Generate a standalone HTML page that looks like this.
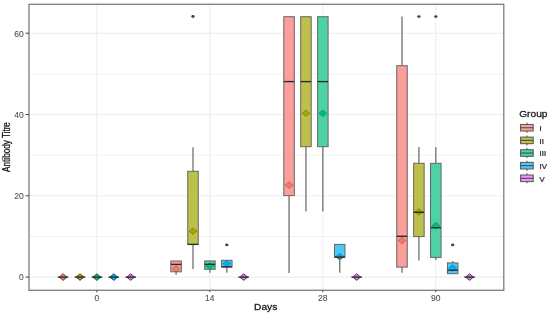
<!DOCTYPE html>
<html><head><meta charset="utf-8"><title>Antibody Titre boxplot</title>
<style>
html,body{margin:0;padding:0;background:#fff;}
svg{display:block;}
text{font-family:"Liberation Sans",Arial,sans-serif;}
.ax{font-size:8.5px;fill:#505050;stroke:#505050;stroke-width:0.1px;}
.ti{font-size:10.2px;fill:#1a1a1a;stroke:#1a1a1a;stroke-width:0.3px;}
.lg{font-size:7.8px;fill:#222;stroke:#222;stroke-width:0.25px;}
.wh{stroke:#7a7a7a;stroke-width:1.4;}
.bx{stroke:#666;stroke-width:1.0;}
.md{stroke:#2a2a2a;stroke-width:1.35;}
</style></head>
<body>
<svg width="550" height="315" viewBox="0 0 550 315">
<rect width="550" height="315" fill="#fff"/>
<g stroke="#eeeeee" fill="none">
<line x1="29.0" x2="503.8" y1="236.45" y2="236.45" stroke-width="0.8"/>
<line x1="29.0" x2="503.8" y1="155.15" y2="155.15" stroke-width="0.8"/>
<line x1="29.0" x2="503.8" y1="73.85" y2="73.85" stroke-width="0.8"/>
<line x1="29.0" x2="503.8" y1="277.10" y2="277.10" stroke-width="1.1"/>
<line x1="29.0" x2="503.8" y1="195.80" y2="195.80" stroke-width="1.1"/>
<line x1="29.0" x2="503.8" y1="114.50" y2="114.50" stroke-width="1.1"/>
<line x1="29.0" x2="503.8" y1="33.20" y2="33.20" stroke-width="1.1"/>
<line x1="96.8" x2="96.8" y1="4.3" y2="290.3" stroke-width="1.1"/>
<line x1="209.8" x2="209.8" y1="4.3" y2="290.3" stroke-width="1.1"/>
<line x1="322.75" x2="322.75" y1="4.3" y2="290.3" stroke-width="1.1"/>
<line x1="435.7" x2="435.7" y1="4.3" y2="290.3" stroke-width="1.1"/>
</g>
<polygon points="63.10,273.80 67.10,277.10 63.10,280.40 59.10,277.10" fill="#F8766D" stroke="#1a1a1a" stroke-width="0.7"/><rect x="57.85" y="277.1" width="10.50" height="0.00" fill="#F8766D" fill-opacity="0.7" class="bx"/><line x1="57.85" x2="68.35" y1="277.1" y2="277.1" class="md"/>
<polygon points="80.00,273.80 84.00,277.10 80.00,280.40 76.00,277.10" fill="#A3A500" stroke="#1a1a1a" stroke-width="0.7"/><rect x="74.75" y="277.1" width="10.50" height="0.00" fill="#A3A500" fill-opacity="0.7" class="bx"/><line x1="74.75" x2="85.25" y1="277.1" y2="277.1" class="md"/>
<polygon points="96.90,273.80 100.90,277.10 96.90,280.40 92.90,277.10" fill="#00BF7D" stroke="#1a1a1a" stroke-width="0.7"/><rect x="91.65" y="277.1" width="10.50" height="0.00" fill="#00BF7D" fill-opacity="0.7" class="bx"/><line x1="91.65" x2="102.15" y1="277.1" y2="277.1" class="md"/>
<polygon points="113.80,273.80 117.80,277.10 113.80,280.40 109.80,277.10" fill="#00B0F6" stroke="#1a1a1a" stroke-width="0.7"/><rect x="108.55" y="277.1" width="10.50" height="0.00" fill="#00B0F6" fill-opacity="0.7" class="bx"/><line x1="108.55" x2="119.05" y1="277.1" y2="277.1" class="md"/>
<polygon points="130.70,273.80 134.70,277.10 130.70,280.40 126.70,277.10" fill="#E76BF3" stroke="#1a1a1a" stroke-width="0.7"/><rect x="125.45" y="277.1" width="10.50" height="0.00" fill="#E76BF3" fill-opacity="0.7" class="bx"/><line x1="125.45" x2="135.95" y1="277.1" y2="277.1" class="md"/>
<rect x="170.85" y="261.0" width="10.50" height="10.80" fill="#fff"/><polygon points="176.10,265.40 180.10,268.70 176.10,272.00 172.10,268.70" fill="#F8766D" stroke="#1a1a1a" stroke-width="0.7"/><line x1="176.10" x2="176.10" y1="271.8" y2="274.8" class="wh"/><rect x="170.85" y="261.0" width="10.50" height="10.80" fill="#F8766D" fill-opacity="0.7" class="bx"/><line x1="170.85" x2="181.35" y1="264.4" y2="264.4" class="md"/>
<rect x="187.75" y="171.3" width="10.50" height="73.10" fill="#fff"/><polygon points="193.00,227.80 197.00,231.10 193.00,234.40 189.00,231.10" fill="#A3A500" stroke="#1a1a1a" stroke-width="0.7"/><line x1="193.00" x2="193.00" y1="147.2" y2="171.3" class="wh"/><line x1="193.00" x2="193.00" y1="244.4" y2="268.9" class="wh"/><rect x="187.75" y="171.3" width="10.50" height="73.10" fill="#A3A500" fill-opacity="0.7" class="bx"/><line x1="187.75" x2="198.25" y1="244.4" y2="244.4" class="md"/><ellipse cx="193.00" cy="16.5" rx="1.7" ry="1.4" fill="#444"/>
<rect x="204.65" y="260.9" width="10.50" height="8.40" fill="#fff"/><polygon points="209.90,262.70 213.90,266.00 209.90,269.30 205.90,266.00" fill="#00BF7D" stroke="#1a1a1a" stroke-width="0.7"/><line x1="209.90" x2="209.90" y1="269.3" y2="272.8" class="wh"/><rect x="204.65" y="260.9" width="10.50" height="8.40" fill="#00BF7D" fill-opacity="0.7" class="bx"/><line x1="204.65" x2="215.15" y1="264.3" y2="264.3" class="md"/>
<rect x="221.55" y="260.3" width="10.50" height="6.60" fill="#fff"/><polygon points="226.80,260.30 230.80,263.60 226.80,266.90 222.80,263.60" fill="#00B0F6" stroke="#1a1a1a" stroke-width="0.7"/><line x1="226.80" x2="226.80" y1="266.9" y2="272.8" class="wh"/><rect x="221.55" y="260.3" width="10.50" height="6.60" fill="#00B0F6" fill-opacity="0.7" class="bx"/><line x1="221.55" x2="232.05" y1="266.9" y2="266.9" class="md"/><ellipse cx="226.80" cy="244.9" rx="1.7" ry="1.4" fill="#444"/>
<polygon points="243.70,273.80 247.70,277.10 243.70,280.40 239.70,277.10" fill="#E76BF3" stroke="#1a1a1a" stroke-width="0.7"/><rect x="238.45" y="277.1" width="10.50" height="0.00" fill="#E76BF3" fill-opacity="0.7" class="bx"/><line x1="238.45" x2="248.95" y1="277.1" y2="277.1" class="md"/>
<rect x="283.80" y="16.7" width="10.50" height="178.90" fill="#fff"/><polygon points="289.05,181.80 293.05,185.10 289.05,188.40 285.05,185.10" fill="#F8766D" stroke="#1a1a1a" stroke-width="0.7"/><line x1="289.05" x2="289.05" y1="195.6" y2="272.9" class="wh"/><rect x="283.80" y="16.7" width="10.50" height="178.90" fill="#F8766D" fill-opacity="0.7" class="bx"/><line x1="283.80" x2="294.30" y1="81.6" y2="81.6" class="md"/>
<rect x="300.70" y="16.7" width="10.50" height="130.00" fill="#fff"/><polygon points="305.95,110.00 309.95,113.30 305.95,116.60 301.95,113.30" fill="#A3A500" stroke="#1a1a1a" stroke-width="0.7"/><line x1="305.95" x2="305.95" y1="146.7" y2="211.4" class="wh"/><rect x="300.70" y="16.7" width="10.50" height="130.00" fill="#A3A500" fill-opacity="0.7" class="bx"/><line x1="300.70" x2="311.20" y1="81.6" y2="81.6" class="md"/>
<rect x="317.60" y="16.7" width="10.50" height="130.00" fill="#fff"/><polygon points="322.85,110.00 326.85,113.30 322.85,116.60 318.85,113.30" fill="#00BF7D" stroke="#1a1a1a" stroke-width="0.7"/><line x1="322.85" x2="322.85" y1="146.7" y2="211.4" class="wh"/><rect x="317.60" y="16.7" width="10.50" height="130.00" fill="#00BF7D" fill-opacity="0.7" class="bx"/><line x1="317.60" x2="328.10" y1="81.6" y2="81.6" class="md"/>
<rect x="334.50" y="244.4" width="10.50" height="12.70" fill="#fff"/><polygon points="339.75,253.40 343.75,256.70 339.75,260.00 335.75,256.70" fill="#00B0F6" stroke="#1a1a1a" stroke-width="0.7"/><line x1="339.75" x2="339.75" y1="257.1" y2="272.8" class="wh"/><rect x="334.50" y="244.4" width="10.50" height="12.70" fill="#00B0F6" fill-opacity="0.7" class="bx"/><line x1="334.50" x2="345.00" y1="257.1" y2="257.1" class="md"/>
<polygon points="356.65,273.80 360.65,277.10 356.65,280.40 352.65,277.10" fill="#E76BF3" stroke="#1a1a1a" stroke-width="0.7"/><rect x="351.40" y="277.1" width="10.50" height="0.00" fill="#E76BF3" fill-opacity="0.7" class="bx"/><line x1="351.40" x2="361.90" y1="277.1" y2="277.1" class="md"/>
<rect x="396.75" y="65.7" width="10.50" height="201.40" fill="#fff"/><polygon points="402.00,237.20 406.00,240.50 402.00,243.80 398.00,240.50" fill="#F8766D" stroke="#1a1a1a" stroke-width="0.7"/><line x1="402.00" x2="402.00" y1="16.6" y2="65.7" class="wh"/><line x1="402.00" x2="402.00" y1="267.1" y2="272.8" class="wh"/><rect x="396.75" y="65.7" width="10.50" height="201.40" fill="#F8766D" fill-opacity="0.7" class="bx"/><line x1="396.75" x2="407.25" y1="236.3" y2="236.3" class="md"/>
<rect x="413.65" y="163.3" width="10.50" height="73.30" fill="#fff"/><polygon points="418.90,208.60 422.90,211.90 418.90,215.20 414.90,211.90" fill="#A3A500" stroke="#1a1a1a" stroke-width="0.7"/><line x1="418.90" x2="418.90" y1="147.1" y2="163.3" class="wh"/><line x1="418.90" x2="418.90" y1="236.6" y2="260.6" class="wh"/><rect x="413.65" y="163.3" width="10.50" height="73.30" fill="#A3A500" fill-opacity="0.7" class="bx"/><line x1="413.65" x2="424.15" y1="212.3" y2="212.3" class="md"/><ellipse cx="418.90" cy="16.6" rx="1.7" ry="1.4" fill="#444"/>
<rect x="430.55" y="163.3" width="10.50" height="94.10" fill="#fff"/><polygon points="435.80,222.40 439.80,225.70 435.80,229.00 431.80,225.70" fill="#00BF7D" stroke="#1a1a1a" stroke-width="0.7"/><line x1="435.80" x2="435.80" y1="147.1" y2="163.3" class="wh"/><line x1="435.80" x2="435.80" y1="257.4" y2="260.1" class="wh"/><rect x="430.55" y="163.3" width="10.50" height="94.10" fill="#00BF7D" fill-opacity="0.7" class="bx"/><line x1="430.55" x2="441.05" y1="227.7" y2="227.7" class="md"/><ellipse cx="435.80" cy="16.6" rx="1.7" ry="1.4" fill="#444"/>
<rect x="447.45" y="262.9" width="10.50" height="10.80" fill="#fff"/><polygon points="452.70,264.70 456.70,268.00 452.70,271.30 448.70,268.00" fill="#00B0F6" stroke="#1a1a1a" stroke-width="0.7"/><line x1="452.70" x2="452.70" y1="261.1" y2="262.9" class="wh"/><rect x="447.45" y="262.9" width="10.50" height="10.80" fill="#00B0F6" fill-opacity="0.7" class="bx"/><line x1="447.45" x2="457.95" y1="270.2" y2="270.2" class="md"/><ellipse cx="452.70" cy="244.9" rx="1.7" ry="1.4" fill="#444"/>
<polygon points="469.60,273.80 473.60,277.10 469.60,280.40 465.60,277.10" fill="#E76BF3" stroke="#1a1a1a" stroke-width="0.7"/><rect x="464.35" y="277.1" width="10.50" height="0.00" fill="#E76BF3" fill-opacity="0.7" class="bx"/><line x1="464.35" x2="474.85" y1="277.1" y2="277.1" class="md"/>
<rect x="29.0" y="4.3" width="474.80" height="286.00" fill="none" stroke="#7d7d7d" stroke-width="1.3"/>
<line x1="25.6" x2="29.0" y1="277.10" y2="277.10" stroke="#444" stroke-width="1"/>
<text x="23.8" y="292.19" transform="scale(1,0.96)" class="ax" text-anchor="end">0</text>
<line x1="25.6" x2="29.0" y1="195.80" y2="195.80" stroke="#444" stroke-width="1"/>
<text x="23.8" y="207.50" transform="scale(1,0.96)" class="ax" text-anchor="end">20</text>
<line x1="25.6" x2="29.0" y1="114.50" y2="114.50" stroke="#444" stroke-width="1"/>
<text x="23.8" y="122.81" transform="scale(1,0.96)" class="ax" text-anchor="end">40</text>
<line x1="25.6" x2="29.0" y1="33.20" y2="33.20" stroke="#444" stroke-width="1"/>
<text x="23.8" y="38.12" transform="scale(1,0.96)" class="ax" text-anchor="end">60</text>
<line x1="96.8" x2="96.8" y1="290.3" y2="292.2" stroke="#444" stroke-width="1"/>
<text x="96.8" y="313.33" transform="scale(1,0.96)" class="ax" text-anchor="middle">0</text>
<line x1="209.8" x2="209.8" y1="290.3" y2="292.2" stroke="#444" stroke-width="1"/>
<text x="209.8" y="313.33" transform="scale(1,0.96)" class="ax" text-anchor="middle">14</text>
<line x1="322.75" x2="322.75" y1="290.3" y2="292.2" stroke="#444" stroke-width="1"/>
<text x="322.75" y="313.33" transform="scale(1,0.96)" class="ax" text-anchor="middle">28</text>
<line x1="435.7" x2="435.7" y1="290.3" y2="292.2" stroke="#444" stroke-width="1"/>
<text x="435.7" y="313.33" transform="scale(1,0.96)" class="ax" text-anchor="middle">90</text>
<text x="265.7" y="356.21" transform="scale(1,0.87)" class="ti" text-anchor="middle">Days</text>
<text transform="translate(10.3,147.0) rotate(-90) scale(0.80,1)" x="0" y="0" class="ti" text-anchor="middle">Antibody Titre</text>
<text x="519.2" y="134.48" transform="scale(1,0.87)" class="ti">Group</text>
<line x1="526.9000000000001" x2="526.9000000000001" y1="122.75" y2="132.75" class="wh"/>
<rect x="520.6" y="124.45" width="12.60" height="6.6" fill="#FA9F99" stroke="#555" stroke-width="1"/>
<line x1="520.6" x2="533.2" y1="127.75" y2="127.75" stroke="#444" stroke-width="1"/>
<text x="539.6" y="142.34" transform="scale(1,0.92)" class="lg">I</text>
<line x1="526.9000000000001" x2="526.9000000000001" y1="135.39" y2="145.39" class="wh"/>
<rect x="520.6" y="137.09" width="12.60" height="6.6" fill="#BFC04C" stroke="#555" stroke-width="1"/>
<line x1="520.6" x2="533.2" y1="140.39" y2="140.39" stroke="#444" stroke-width="1"/>
<text x="539.6" y="156.08" transform="scale(1,0.92)" class="lg">II</text>
<line x1="526.9000000000001" x2="526.9000000000001" y1="148.03" y2="158.03" class="wh"/>
<rect x="520.6" y="149.73" width="12.60" height="6.6" fill="#4CD2A4" stroke="#555" stroke-width="1"/>
<line x1="520.6" x2="533.2" y1="153.03" y2="153.03" stroke="#444" stroke-width="1"/>
<text x="539.6" y="169.82" transform="scale(1,0.92)" class="lg">III</text>
<line x1="526.9000000000001" x2="526.9000000000001" y1="160.67000000000002" y2="170.67000000000002" class="wh"/>
<rect x="520.6" y="162.37" width="12.60" height="6.6" fill="#4CC8F9" stroke="#555" stroke-width="1"/>
<line x1="520.6" x2="533.2" y1="165.67000000000002" y2="165.67000000000002" stroke="#444" stroke-width="1"/>
<text x="539.6" y="183.55" transform="scale(1,0.92)" class="lg">IV</text>
<line x1="526.9000000000001" x2="526.9000000000001" y1="173.31" y2="183.31" class="wh"/>
<rect x="520.6" y="175.01" width="12.60" height="6.6" fill="#EE97F7" stroke="#555" stroke-width="1"/>
<line x1="520.6" x2="533.2" y1="178.31" y2="178.31" stroke="#444" stroke-width="1"/>
<text x="539.6" y="197.29" transform="scale(1,0.92)" class="lg">V</text>
</svg>
</body></html>
